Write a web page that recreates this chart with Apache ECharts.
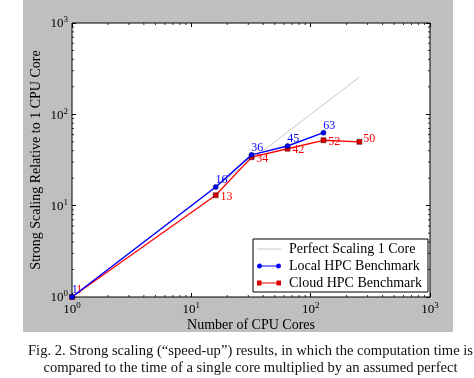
<!DOCTYPE html>
<html>
<head>
<meta charset="utf-8">
<script src="https://cdn.jsdelivr.net/npm/echarts@6/dist/echarts.min.js"></script>
<style>
  html, body { margin: 0; padding: 0; background: #fff; }
  #chart { width: 474px; height: 378px; }
</style>
</head>
<body>
<div id="chart"></div>
<script>
// ---- data ----
const localCores = [1, 16, 32, 64, 128];
const localSpeedup = [1, 16, 36, 45, 63];
const cloudCores = [1, 16, 32, 64, 128, 256];
const cloudSpeedup = [1, 13, 34, 42, 52, 50];
const perfectCores = [1, 256];
const perfectSpeedup = [1, 256];
const majorTicks = [1, 10, 100, 1000];
const minorTicks = [2, 3, 4, 5, 6, 7, 8, 9, 20, 30, 40, 50, 60, 70, 80, 90, 200, 300, 400, 500, 600, 700, 800, 900];
const seriesNames = ['Perfect Scaling 1 Core', 'Local HPC Benchmark', 'Cloud HPC Benchmark'];
const xTitle = 'Number of CPU Cores';
const yTitle = 'Strong Scaling Relative to 1 CPU Core';
const captionLines = [
  'Fig. 2. Strong scaling (\u201Cspeed-up\u201D) results, in which the computation time is',
  'compared to the time of a single core multiplied by an assumed perfect'
];

// ---- styles ----
const SERIF = '"Liberation Serif", "DejaVu Serif", serif';
const BLUE = '#0000ff';
const RED = '#ff0000';

function pow10Label(v) {
  const e = Math.round(Math.log10(v));
  if (majorTicks.indexOf(v) < 0) return '';
  return '{b|10}{s|' + e + '}';
}
const richTick = {
  b: { fontFamily: SERIF, fontSize: 13, color: '#000', verticalAlign: 'bottom' },
  s: { fontFamily: SERIF, fontSize: 9, color: '#000', verticalAlign: 'bottom', padding: [0, 0, 6, 0] }
};

const labelPosBlue = [2.5, -10.5];
const labelPosRed = [7.5, -2];
const redOverrides = { 0: [7, -10.5], 5: [6.5, -6.5] };

function pairs(xs, ys, overrides) {
  return xs.map((x, i) => {
    const item = { value: [x, ys[i]] };
    if (overrides && overrides[i]) item.label = { position: overrides[i] };
    return item;
  });
}

// legend icons (line with markers at both ends, like matplotlib)
const iconLine = 'path://M0,2 h24 v1 h-24 z';
const iconCircles = 'path://M2.5,0 A2.5,2.5 0 1,1 2.49,0 Z M2.5,2 H21.5 V3 H2.5 Z M21.5,0 A2.5,2.5 0 1,1 21.49,0 Z';
const iconSquares = 'path://M0,0 H4.5 V5 H0 Z M4.5,2 H19.5 V3 H4.5 Z M19.5,0 H24 V5 H19.5 Z';

function minorTickSeries(axis) {
  return {
    type: 'custom',
    silent: true,
    clip: false,
    z: 5,
    data: minorTicks.map(v => [v]),
    encode: axis === 'x' ? { x: 0 } : { y: 0 },
    renderItem: function (params, api) {
      const v = api.value(0);
      const lineStyle = { stroke: '#000', lineWidth: 0.8 };
      if (axis === 'x') {
        const b = api.coord([v, 1]);
        const t = api.coord([v, 1000]);
        return { type: 'group', children: [
          { type: 'line', shape: { x1: b[0], y1: b[1], x2: b[0], y2: b[1] - 2 }, style: lineStyle },
          { type: 'line', shape: { x1: t[0], y1: t[1], x2: t[0], y2: t[1] + 2 }, style: lineStyle }
        ]};
      } else {
        const l = api.coord([1, v]);
        const r = api.coord([1000, v]);
        return { type: 'group', children: [
          { type: 'line', shape: { x1: l[0], y1: l[1], x2: l[0] + 2, y2: l[1] }, style: lineStyle },
          { type: 'line', shape: { x1: r[0], y1: r[1], x2: r[0] - 2, y2: r[1] }, style: lineStyle }
        ]};
      }
    }
  };
}

const logAxisBase = {
  type: 'log',
  logBase: 10,
  min: 1,
  max: 1000,
  splitLine: { show: false },
  axisLine: { show: false },
  axisTick: { show: true, inside: true, length: 4, lineStyle: { color: '#000', width: 1 } }
};

const chart = echarts.init(document.getElementById('chart'), null, { renderer: 'canvas' });
chart.setOption({
  animation: false,
  backgroundColor: '#ffffff',
  graphic: [
    { type: 'rect', z: -100, silent: true, shape: { x: 23, y: 0, width: 430, height: 332 }, style: { fill: '#bfbfbf' } },
    { type: 'text', z: 10, silent: true, style: { text: captionLines[0], x: 250.5, y: 344, textAlign: 'center', font: '14.6px ' + SERIF, fill: '#111' } },
    { type: 'text', z: 10, silent: true, style: { text: captionLines[1], x: 250.5, y: 361, textAlign: 'center', font: '14.6px ' + SERIF, fill: '#111' } }
  ],
  grid: {
    left: 72, top: 23, right: 44, bottom: 81,
    show: true, backgroundColor: '#ffffff', borderColor: '#000', borderWidth: 1
  },
  legend: {
    orient: 'vertical',
    left: 253, top: 239,
    padding: [3, 6, 2, 4],
    itemGap: 3,
    itemWidth: 24,
    itemHeight: 5,
    backgroundColor: '#ffffff',
    borderColor: '#000',
    borderWidth: 1,
    borderRadius: 0,
    itemStyle: { borderWidth: 0 },
    textStyle: { fontFamily: SERIF, fontSize: 14, color: '#000', padding: [0, 0, 0, 3] },
    data: [
      { name: seriesNames[0], icon: iconLine },
      { name: seriesNames[1], icon: iconCircles },
      { name: seriesNames[2], icon: iconSquares }
    ]
  },
  xAxis: [
    Object.assign({}, logAxisBase, {
      position: 'bottom',
      name: xTitle,
      nameLocation: 'middle',
      nameGap: 21,
      nameMoveOverlap: false,
      nameTextStyle: { fontFamily: SERIF, fontSize: 14, color: '#000' },
      axisLabel: { margin: 4, formatter: pow10Label, rich: richTick }
    }),
    Object.assign({}, logAxisBase, { position: 'top', axisLabel: { show: false } })
  ],
  yAxis: [
    Object.assign({}, logAxisBase, {
      position: 'left',
      name: yTitle,
      nameLocation: 'middle',
      nameGap: 29,
      nameMoveOverlap: false,
      nameTextStyle: { fontFamily: SERIF, fontSize: 14, color: '#000' },
      axisLabel: { margin: 4, formatter: pow10Label, rich: richTick }
    }),
    Object.assign({}, logAxisBase, { position: 'right', axisLabel: { show: false } })
  ],
  series: [
    {
      name: seriesNames[0],
      type: 'line',
      data: pairs(perfectCores, perfectSpeedup),
      showSymbol: false,
      symbol: 'none',
      color: '#c8c8c8',
      lineStyle: { color: '#c8c8c8', width: 1 },
      z: 2
    },
    {
      name: seriesNames[1],
      type: 'line',
      data: pairs(localCores, localSpeedup),
      symbol: 'circle',
      symbolSize: 5,
      color: BLUE,
      lineStyle: { color: BLUE, width: 1.5 },
      itemStyle: { color: BLUE, borderColor: '#000033', borderWidth: 0.5 },
      label: {
        show: true,
        position: labelPosBlue,
        color: BLUE,
        fontFamily: SERIF,
        fontSize: 12,
        formatter: p => String(p.value[1])
      },
      z: 4
    },
    {
      name: seriesNames[2],
      type: 'line',
      data: pairs(cloudCores, cloudSpeedup, redOverrides),
      symbol: 'rect',
      symbolSize: 5,
      color: RED,
      lineStyle: { color: RED, width: 1.3 },
      itemStyle: { color: '#dd0000', borderColor: '#330000', borderWidth: 0.5 },
      label: {
        show: true,
        position: labelPosRed,
        color: RED,
        fontFamily: SERIF,
        fontSize: 12,
        formatter: p => String(p.value[1])
      },
      z: 3
    },
    minorTickSeries('x'),
    minorTickSeries('y')
  ]
});
</script>
</body>
</html>
